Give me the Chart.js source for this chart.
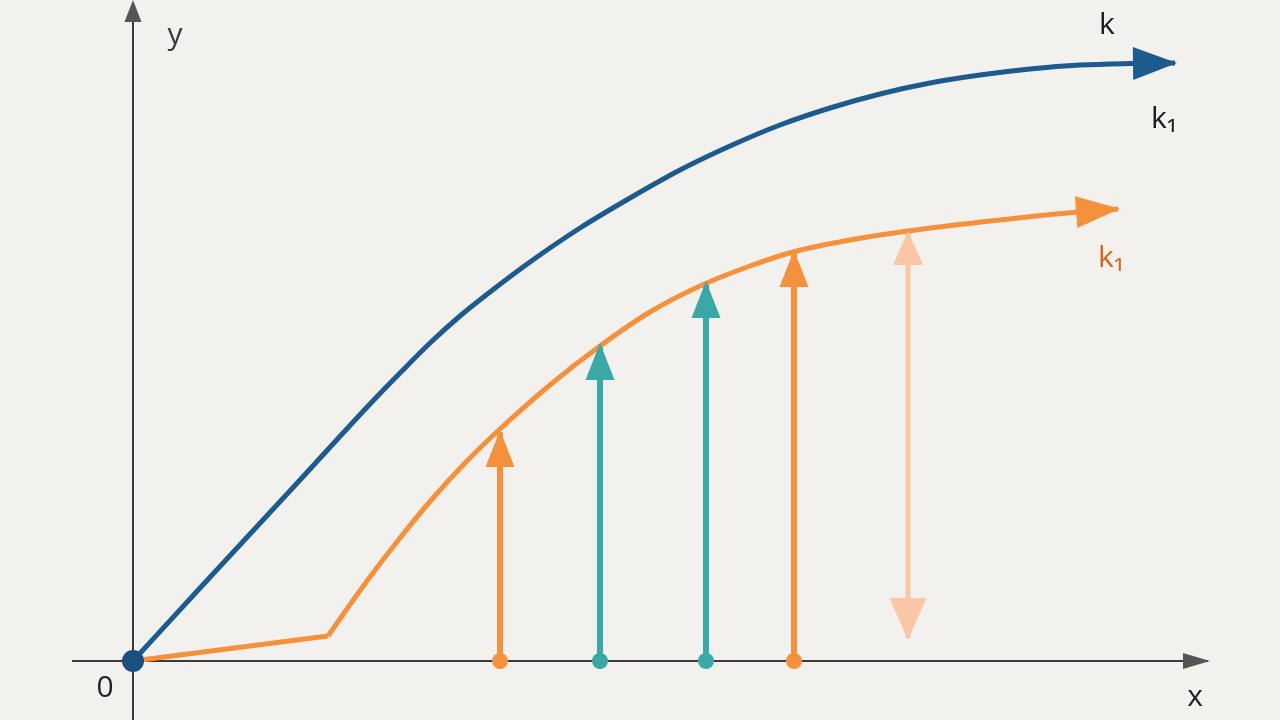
<!DOCTYPE html>
<html>
<head>
<meta charset="utf-8">
<title>k</title>
<script src="https://cdn.jsdelivr.net/npm/chart.js@4.4.0/dist/chart.umd.min.js"></script>
<style>
html, body { margin:0; padding:0; background:#f2f1ed; overflow:hidden; }
#canvasGraph { display:block; }
</style>
</head>
<body>
<canvas id="canvasGraph" width="1280" height="720"></canvas>
<script>
// Courbe k (bleue)
var kX = [0, 0.67, 1.67, 2.37, 2.67, 2.97, 3.27, 3.57, 3.97, 4.47, 4.97, 5.47, 5.97, 6.47, 6.97, 7.47, 7.97, 8.47, 8.97, 9.47, 9.97, 10.42];
var kY = [0, 0.73, 1.81, 2.57, 2.88, 3.18, 3.45, 3.69, 3.99, 4.33, 4.63, 4.91, 5.15, 5.36, 5.53, 5.67, 5.78, 5.86, 5.92, 5.96, 5.975, 5.98];

// Courbe k1 (orange) : segment droit puis courbe
var k1BaseX = [0, 1.95];
var k1BaseY = [0, 0.25];
var k1X = [1.95, 2.34, 2.67, 3.0, 3.34, 3.67, 4.17, 4.67, 5.17, 5.67, 6.17, 6.60, 7.17, 7.75, 8.67, 9.45, 9.85];
var k1Y = [0.25, 0.80, 1.23, 1.63, 2.00, 2.32, 2.76, 3.15, 3.49, 3.75, 3.95, 4.09, 4.21, 4.30, 4.41, 4.49, 4.52];

// Fleches verticales
var flechesX = [3.67, 4.67, 5.73, 6.61];
var flechesY = [2.29, 3.16, 3.78, 4.09];
var flechesCouleurs = ['#f5913c', '#3aa8a7', '#3aa8a7', '#f5913c'];

// Fleche double (claire)
var doubleX = 7.75;
var doubleHaut = 4.28;
var doubleBas = 0.23;

// Axes
var axeXDebut = -0.61, axeXFin = 10.75;
var axeYDebut = -0.6, axeYFin = 6.59;

// Textes
var textes = ['y', 'x', '0', 'k', 'k\u2081', 'k\u2081'];

function Points(xs, ys)
{
    var pts = [];
    for (var i = 0; i < xs.length; i++)
    {
        pts.push({x: xs[i], y: ys[i]});
    }
    return pts;
}

// Dessine une tete de fleche au bout du segment (x1,y1)->(x2,y2)
function Tete(ctx, x1, y1, x2, y2, longueur, largeur, couleur)
{
    var a = Math.atan2(y2 - y1, x2 - x1);
    ctx.save();
    ctx.translate(x2, y2);
    ctx.rotate(a);
    ctx.beginPath();
    ctx.moveTo(2, 0);
    ctx.lineTo(-longueur, -largeur / 2);
    ctx.lineTo(-longueur, largeur / 2);
    ctx.closePath();
    ctx.fillStyle = couleur;
    ctx.fill();
    ctx.restore();
}

var plugFleches = {
    id: 'fleches',
    afterDatasetsDraw: function(chart)
    {
        var ctx = chart.ctx;
        chart.data.datasets.forEach(function(ds, i)
        {
            var pts = chart.getDatasetMeta(i).data;
            if (!ds.tete || pts.length < 2) return;
            var n = pts.length;
            if (ds.tete.fin)
            {
                Tete(ctx, pts[n-2].x, pts[n-2].y, pts[n-1].x, pts[n-1].y, ds.tete.l, ds.tete.w, ds.tete.c);
            }
            if (ds.tete.debut)
            {
                Tete(ctx, pts[1].x, pts[1].y, pts[0].x, pts[0].y, ds.tete.l2, ds.tete.w2, ds.tete.c);
            }
        });

        var sx = chart.scales.x, sy = chart.scales.y;
        ctx.save();
        ctx.font = '30px "Open Sans", sans-serif';
        ctx.textAlign = 'center';
        ctx.textBaseline = 'middle';
        var pos = [[0.42, 6.26, '#3a3a3a'], [10.62, -0.36, '#222'], [-0.28, -0.27, '#222'],
                   [9.74, 6.36, '#1a1a1a'], [10.31, 5.42, '#1a1a1a'], [9.78, 4.03, '#d9661a']];
        for (var j = 0; j < textes.length; j++)
        {
            ctx.fillStyle = pos[j][2];
            ctx.fillText(textes[j], sx.getPixelForValue(pos[j][0]), sy.getPixelForValue(pos[j][1]));
        }
        ctx.restore();
    }
};

var datasets = [];

// Axes
datasets.push({
    data: Points([axeXDebut, axeXFin], [0, 0]),
    borderColor: '#3a3a3a', borderWidth: 2, pointRadius: 0, showLine: true, order: 20,
    tete: {fin: true, l: 25, w: 16, c: '#555'}
});
datasets.push({
    data: Points([0, 0], [axeYDebut, axeYFin]),
    borderColor: '#3a3a3a', borderWidth: 2, pointRadius: 0, showLine: true, order: 20,
    tete: {fin: true, l: 20, w: 17, c: '#555'}
});

// Courbes
datasets.push({
    label: 'k',
    data: Points(kX, kY),
    borderColor: '#1d5a8e', borderWidth: 5, pointRadius: 0, showLine: true,
    cubicInterpolationMode: 'monotone', order: 10,
    tete: {fin: true, l: 42, w: 33, c: '#1d5a8e'}
});
datasets.push({
    data: Points(k1BaseX, k1BaseY),
    borderColor: '#f5913c', borderWidth: 5, pointRadius: 0, showLine: true, order: 10
});
datasets.push({
    label: 'k1',
    data: Points(k1X, k1Y),
    borderColor: '#f5913c', borderWidth: 5, pointRadius: 0, showLine: true,
    cubicInterpolationMode: 'monotone', order: 10,
    tete: {fin: true, l: 42, w: 32, c: '#f5913c'}
});

// Fleches verticales
for (var i = 0; i < flechesX.length; i++)
{
    datasets.push({
        data: Points([flechesX[i], flechesX[i]], [0, flechesY[i]]),
        borderColor: flechesCouleurs[i], borderWidth: 6, borderCapStyle: 'butt',
        pointRadius: 0, showLine: true, order: 12,
        tete: {fin: true, l: 35, w: 29, c: flechesCouleurs[i]}
    });
}
datasets.push({
    data: Points([doubleX, doubleX], [doubleHaut, doubleBas]),
    borderColor: '#f9c7a6', borderWidth: 5, borderCapStyle: 'butt',
    pointRadius: 0, showLine: true, order: 12,
    tete: {fin: true, debut: true, l: 40, w: 37, l2: 32, w2: 30, c: '#f9c7a6'}
});

// Points sur l'axe
datasets.push({
    data: Points(flechesX, [0, 0, 0, 0]),
    pointRadius: 8, pointBackgroundColor: flechesCouleurs, pointBorderWidth: 0,
    showLine: false, order: 2
});
datasets.push({
    data: Points([0], [0]),
    pointRadius: 11, pointBackgroundColor: '#1b4f80', pointBorderWidth: 0,
    showLine: false, order: 1
});

new Chart(document.getElementById('canvasGraph'), {
    type: 'scatter',
    data: { datasets: datasets },
    options: {
        responsive: false,
        animation: false,
        devicePixelRatio: 1,
        layout: { padding: 0, autoPadding: false },
        plugins: { legend: { display: false }, tooltip: { enabled: false } },
        scales: {
            x: { type: 'linear', display: false, min: -1.33, max: 11.47 },
            y: { type: 'linear', display: false, min: -0.59, max: 6.61 }
        }
    },
    plugins: [plugFleches]
});
</script>
</body>
</html>
